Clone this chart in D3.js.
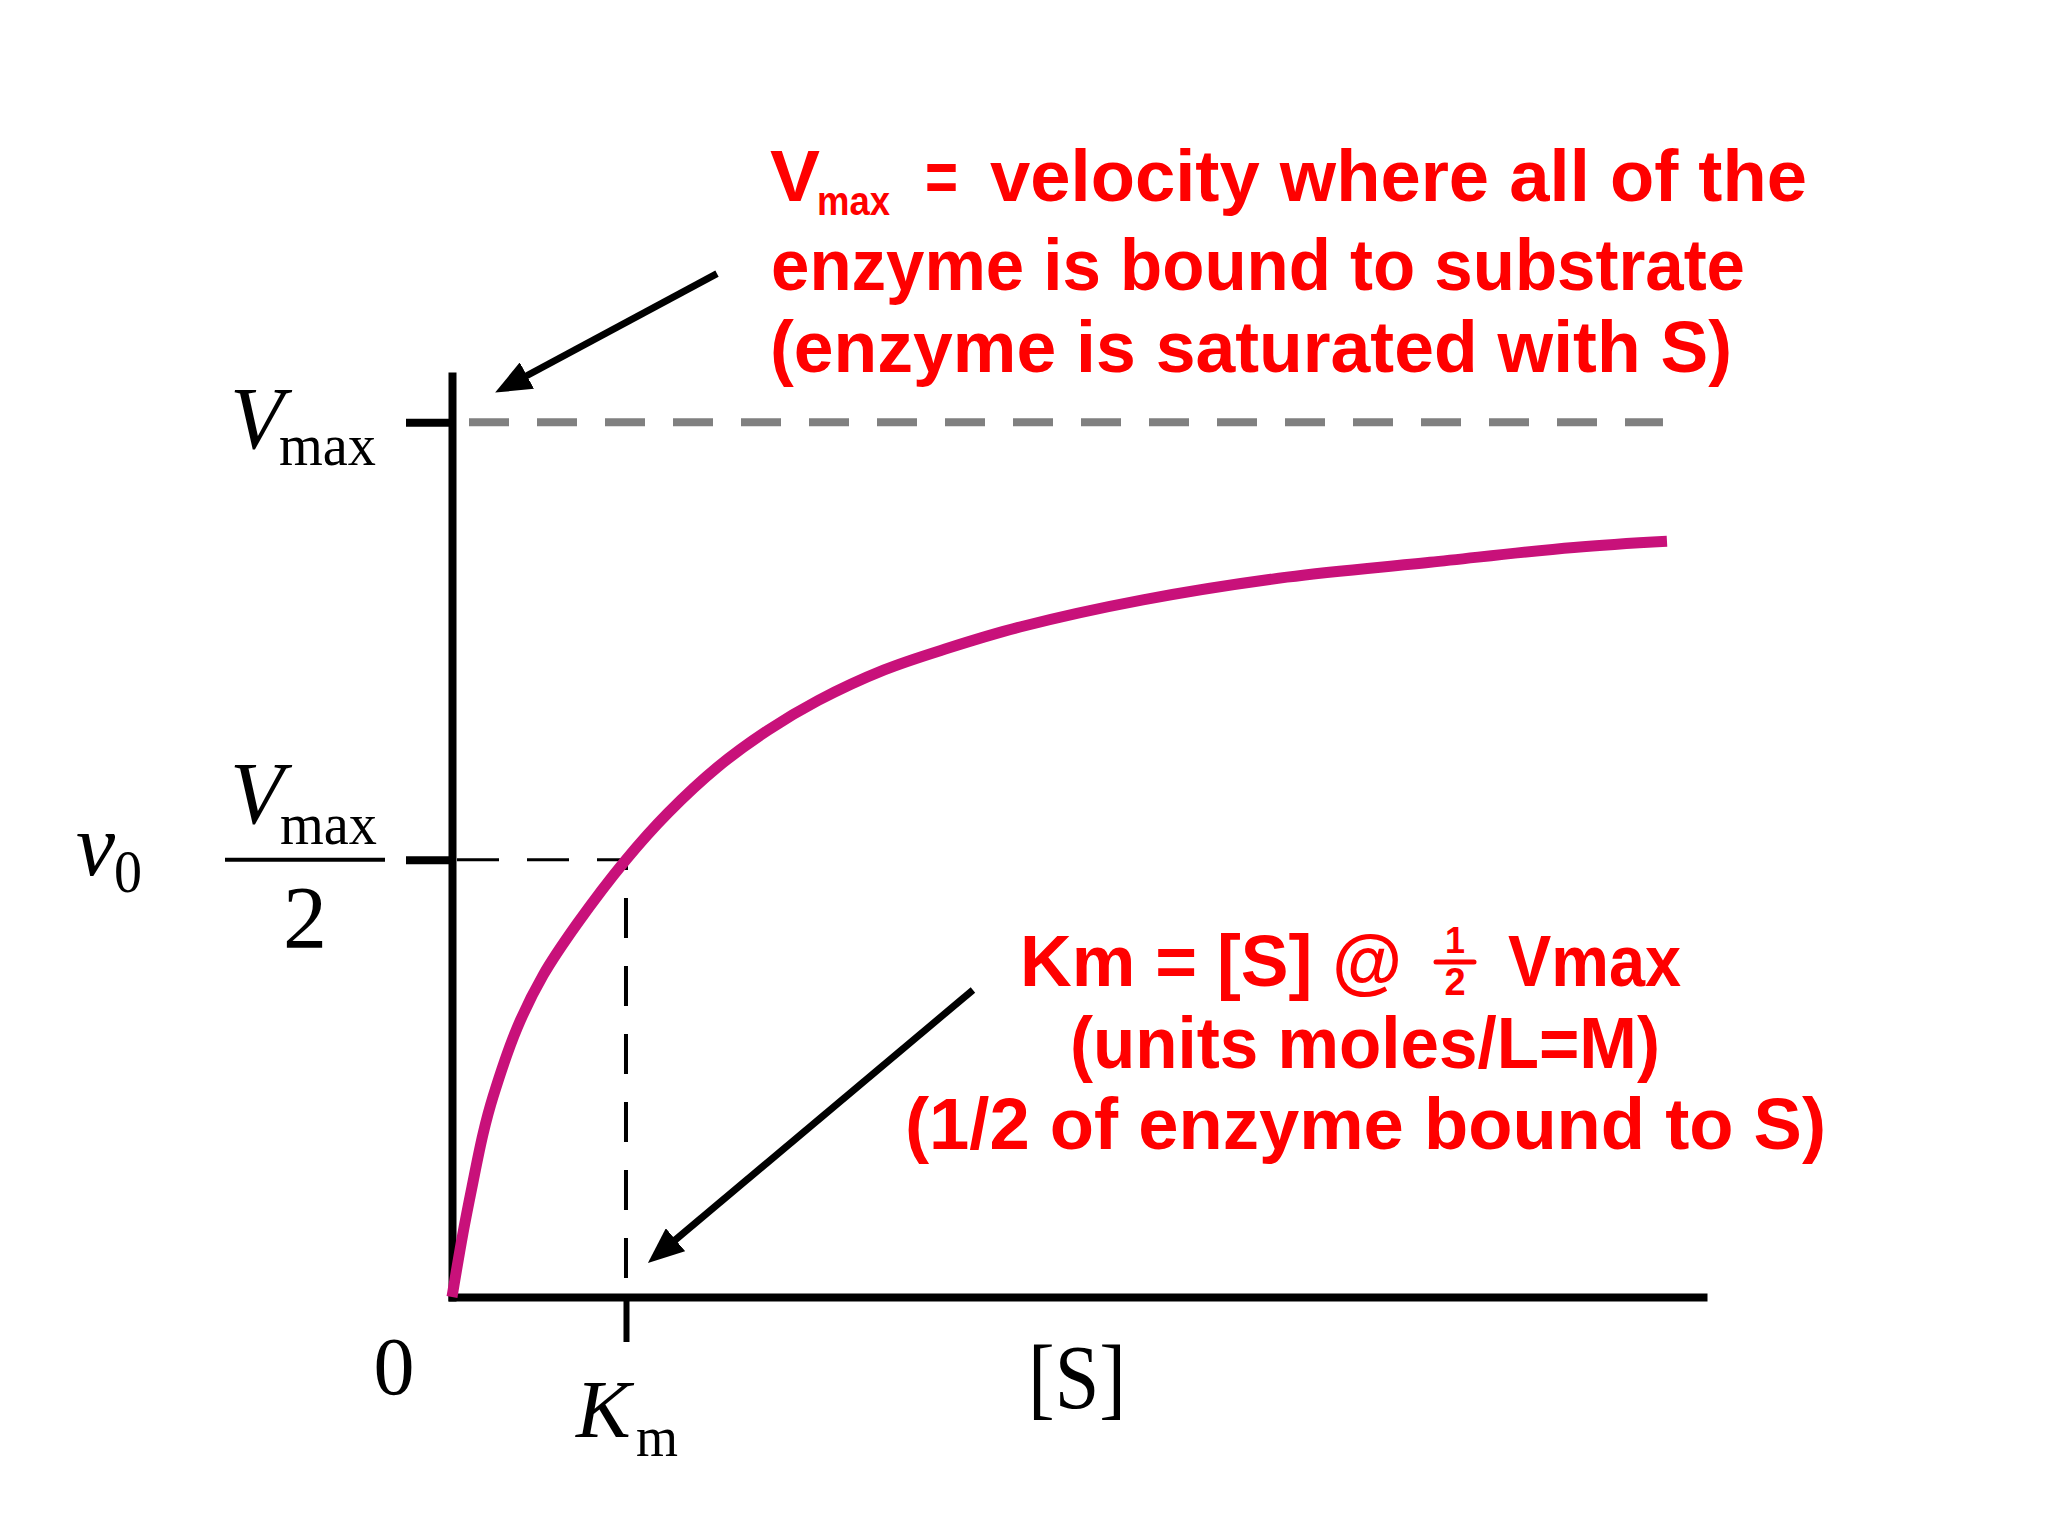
<!DOCTYPE html>
<html>
<head>
<meta charset="utf-8">
<script src="https://cdn.jsdelivr.net/npm/d3@7"></script>
<style>
  html, body { margin: 0; padding: 0; background: #fff; }
  svg { display: block; }
  .serif { font-family: "Liberation Serif", "Times New Roman", serif; fill: #000; }
  .note { font-family: "Comic Sans MS", "Liberation Sans", Arial, sans-serif; font-weight: 700; fill: #ff0000; }
</style>
</head>
<body>
<div id="chart"></div>
<script>
// curve: [S] in units of Km, v0 in units of Vmax
const sValues = [0, 0.063, 0.115, 0.179, 0.236, 0.375, 0.524, 0.720, 1.0, 1.239, 1.527, 1.816, 2.104, 2.484, 2.853, 3.264, 3.971, 4.799, 5.621, 6.448, 6.983];
const vValues = [0, 0.073, 0.126, 0.187, 0.229, 0.308, 0.368, 0.427, 0.5, 0.553, 0.606, 0.648, 0.682, 0.717, 0.742, 0.766, 0.797, 0.823, 0.840, 0.857, 0.864];

// reference levels
const vmaxLevel = 1;
const halfLevel = 0.5;
const kmValue = 1;
const sMax = 7.19;
const vTop = 1.053;
const vmaxLineEnd = 6.96;

// arrows, [S] / v0 units: [fromS, fromV, toS, toV]
const arrowTop = [1.523, 1.170, 0.248, 1.034];
const arrowBottom = [2.994, 0.351, 1.126, 0.039];

// red notes
const topNote = ["velocity where all of the", "enzyme is bound to substrate", "(enzyme is saturated with S)"];
const bottomNote = ["Km = [S] @", "Vmax", "(units moles/L=M)", "(1/2 of enzyme bound to S)"];

const W = 2048, H = 1536;
const svg = d3.select("#chart").append("svg")
    .attr("width", W)
    .attr("height", H);

svg.append("rect").attr("width", W).attr("height", H).attr("fill", "#fff");

const x = d3.scaleLinear().domain([0, sMax]).range([452, 1703]);
const y = d3.scaleLinear().domain([0, vTop]).range([1297, 376]);

// guide lines
svg.append("line")
    .attr("x1", x(0) + 17).attr("x2", x(vmaxLineEnd))
    .attr("y1", y(vmaxLevel)).attr("y2", y(vmaxLevel))
    .attr("stroke", "#808080").attr("stroke-width", 8)
    .attr("stroke-dasharray", "40,28");

svg.append("line")
    .attr("x1", x(0) + 5).attr("x2", x(kmValue))
    .attr("y1", y(halfLevel)).attr("y2", y(halfLevel))
    .attr("stroke", "#000").attr("stroke-width", 3)
    .attr("stroke-dasharray", "42,28");

svg.append("line")
    .attr("x1", x(kmValue)).attr("x2", x(kmValue))
    .attr("y1", y(0)).attr("y2", y(halfLevel))
    .attr("stroke", "#000").attr("stroke-width", 4)
    .attr("stroke-dasharray", "40,28")
    .attr("stroke-dashoffset", 49);

// axes
const yAxis = svg.append("g")
    .attr("transform", `translate(${x(0)},0)`)
    .call(d3.axisLeft(y).tickValues([halfLevel, vmaxLevel]).tickSize(46).tickSizeOuter(0).tickFormat(""));
const xAxis = svg.append("g")
    .attr("transform", `translate(0,${y(0)})`)
    .call(d3.axisBottom(x).tickValues([kmValue]).tickSize(45).tickSizeOuter(0).tickFormat(""));

[yAxis, xAxis].forEach(g => {
  g.select(".domain").attr("stroke", "#000").attr("stroke-width", 8).attr("stroke-linecap", "square");
  g.selectAll(".tick line").attr("stroke", "#000").attr("stroke-width", 8);
});
xAxis.selectAll(".tick line").attr("stroke-width", 6);

// curve
const curveData = sValues.map((s, i) => ({ s: s, v: vValues[i] }));
const line = d3.line()
    .x(d => x(d.s))
    .y(d => y(d.v))
    .curve(d3.curveCatmullRom.alpha(0.5));

svg.append("path")
    .datum(curveData)
    .attr("fill", "none")
    .attr("stroke", "#c8117a")
    .attr("stroke-width", 11)
    .attr("stroke-linecap", "butt")
    .attr("d", line);

// arrows
const defs = svg.append("defs");
defs.append("marker")
    .attr("id", "head")
    .attr("markerUnits", "userSpaceOnUse")
    .attr("markerWidth", 36).attr("markerHeight", 30)
    .attr("refX", 36).attr("refY", 15)
    .attr("orient", "auto")
  .append("path")
    .attr("d", "M0,0 L36,15 L0,30 Z")
    .attr("fill", "#000");

function arrow(a) {
  const x1 = x(a[0]), y1 = y(a[1]), x2 = x(a[2]), y2 = y(a[3]);
  const len = Math.hypot(x2 - x1, y2 - y1);
  const k = (len - 22) / len;
  // line stops inside the head so the tip stays sharp
  svg.append("line")
      .attr("x1", x1).attr("y1", y1)
      .attr("x2", x1 + (x2 - x1) * k).attr("y2", y1 + (y2 - y1) * k)
      .attr("stroke", "#000").attr("stroke-width", 7);
  svg.append("line")
      .attr("x1", x1 + (x2 - x1) * k).attr("y1", y1 + (y2 - y1) * k)
      .attr("x2", x2).attr("y2", y2)
      .attr("stroke", "none")
      .attr("marker-end", "url(#head)");
}
arrow(arrowTop);
arrow(arrowBottom);

// black serif labels: main glyph plus subscript in one text
function serifSub(main, sub, px, py, mainSize, subX, subDy, subSize, subLen, italic) {
  const t = svg.append("text").attr("class", "serif")
      .attr("x", px).attr("y", py);
  const m = t.append("tspan").style("font-size", mainSize + "px").text(main);
  if (italic) m.style("font-style", "italic");
  t.append("tspan")
      .attr("x", subX).attr("dy", subDy)
      .style("font-size", subSize + "px")
      .attr("textLength", subLen).attr("lengthAdjust", "spacingAndGlyphs")
      .text(sub);
  return t;
}

serifSub("V", "max", 230, y(vmaxLevel) + 26, 88, 279, 17, 60, 97, true);
serifSub("V", "max", 230, y(halfLevel) - 37, 88, 280, 21, 60, 97, true);
svg.append("line")
    .attr("x1", 225).attr("x2", 385)
    .attr("y1", y(halfLevel)).attr("y2", y(halfLevel))
    .attr("stroke", "#000").attr("stroke-width", 4);
svg.append("text").attr("class", "serif")
    .attr("x", 305).attr("y", y(halfLevel) + 87)
    .attr("text-anchor", "middle")
    .style("font-size", "88px")
    .text("2");

serifSub("v", "0", 76, y(halfLevel) + 15, 88, 114, 17, 62, 28, true);

svg.append("text").attr("class", "serif")
    .attr("x", x(0) - 58).attr("y", y(0) + 97)
    .attr("text-anchor", "middle")
    .style("font-size", "82px")
    .text("0");
serifSub("K", "m", x(kmValue) - 50, y(0) + 140, 82, x(kmValue) + 10, 19, 58, 42, true);
svg.append("text").attr("class", "serif")
    .attr("x", 1028).attr("y", y(0) + 111)
    .style("font-size", "90px")
    .attr("textLength", 98).attr("lengthAdjust", "spacingAndGlyphs")
    .text("[S]");

// red notes
function note(txt, px, py, size, len) {
  const t = svg.append("text").attr("class", "note")
      .attr("x", px).attr("y", py)
      .style("font-size", size + "px")
      .text(txt);
  if (len) t.attr("textLength", len).attr("lengthAdjust", "spacingAndGlyphs");
  return t;
}

const first = svg.append("text").attr("class", "note")
    .attr("x", 770).attr("y", 201)
    .style("font-size", "72px");
first.append("tspan").attr("textLength", 50).attr("lengthAdjust", "spacingAndGlyphs").text("V");
first.append("tspan").attr("x", 817).attr("dy", 14).style("font-size", "40px")
    .attr("textLength", 73).attr("lengthAdjust", "spacingAndGlyphs").text("max");
first.append("tspan").attr("x", 925).attr("dy", -14)
    .attr("textLength", 33).attr("lengthAdjust", "spacingAndGlyphs").text("=");
first.append("tspan").attr("x", 990)
    .attr("textLength", 817).attr("lengthAdjust", "spacingAndGlyphs").text(topNote[0]);

note(topNote[1], 771, 290, 72, 974);
note(topNote[2], 770, 372, 72, 962);

const km = svg.append("text").attr("class", "note")
    .attr("x", 1020).attr("y", 986)
    .style("font-size", "72px");
km.append("tspan").attr("textLength", 382).attr("lengthAdjust", "spacingAndGlyphs").text(bottomNote[0]);
km.append("tspan").attr("x", 1455).attr("dy", -33).attr("text-anchor", "middle")
    .style("font-size", "36px").text("1");
km.append("tspan").attr("x", 1455).attr("dy", 42).attr("text-anchor", "middle")
    .style("font-size", "38px").text("2");
km.append("tspan").attr("x", 1508).attr("dy", -9)
    .attr("textLength", 173).attr("lengthAdjust", "spacingAndGlyphs").text(bottomNote[1]);
svg.append("line")
    .attr("x1", 1436).attr("x2", 1474)
    .attr("y1", 962).attr("y2", 962)
    .attr("stroke", "#ff0000").attr("stroke-width", 5)
    .attr("stroke-linecap", "round");

note(bottomNote[2], 1070, 1068, 72, 590);
note(bottomNote[3], 905, 1149, 72, 921);
</script>
</body>
</html>
